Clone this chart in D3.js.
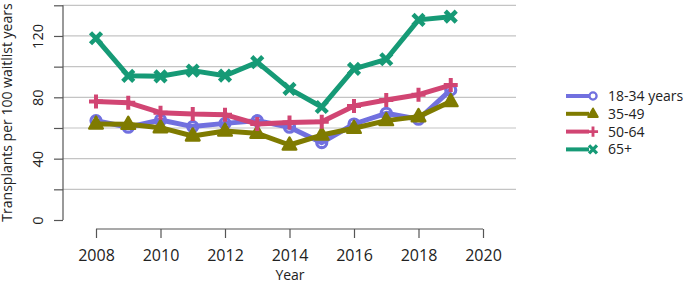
<!DOCTYPE html>
<html><head><meta charset="utf-8">
<script src="https://cdn.jsdelivr.net/npm/d3@7"></script>
<style>body{margin:0;background:#fff}svg{display:block;font-family:"Open Sans",sans-serif}</style>
</head><body>
<svg id="c" width="685" height="292"></svg>
<script>
const years = [2008,2009,2010,2011,2012,2013,2014,2015,2016,2017,2018,2019];
const seriesNames = ["18-34 years","35-49","50-64","65+"];
const v1834 = [64.8,60.5,65.2,60.9,63.0,64.8,60.5,50.4,62.6,69.6,65.7,84.8];
const v3549 = [62.6,62.4,60.2,54.8,58.0,56.5,48.9,55.4,59.8,64.8,67.4,77.2];
const v5064 = [77.2,76.5,70.0,69.1,68.7,62.6,63.5,64.1,74.4,78.3,81.7,88.0];
const v65 = [118.5,94.0,93.7,97.4,94.1,102.9,85.5,73.7,98.5,104.8,130.5,132.6];
const colors = ["#7170df","#7f7b00","#d14573","#169a76"];
const shapes = ["circle","triangle","plus","cross"];
const xTicks = [2008,2010,2012,2014,2016,2018,2020];
const yTicks = [0,20,40,60,80,100,120,140];
const yLabels = [0,40,80,120];

const svg = d3.select("#c");
const x = d3.scaleLinear().domain([2008,2020]).range([96,483]);
const y = d3.scaleLinear().domain([0,140]).range([220,5.3]);
const data = [v1834,v3549,v5064,v65];

// gridlines
svg.append("g").selectAll("line").data(yTicks.filter(d=>d>0)).join("line")
  .attr("x1",63).attr("x2",516).attr("y1",d=>y(d)).attr("y2",d=>y(d))
  .attr("stroke","#c4c4c4").attr("stroke-width",1.2);

// y axis
const ya = svg.append("g").attr("transform","translate(63,0)")
  .call(d3.axisLeft(y).tickValues(yTicks).tickSize(9).tickFormat(d=>yLabels.includes(d)?d:""));
ya.select(".domain").attr("stroke","#555").attr("stroke-width",1.2).attr("d","M0,"+y(140)+"V"+y(0));
ya.selectAll(".tick line").attr("stroke","#555").attr("stroke-width",1.2);
ya.selectAll(".tick text").attr("font-size",14.5).attr("fill","#222")
  .attr("x",0).attr("y",0).attr("dy","0").attr("dx","0")
  .attr("transform","translate(-20,0) rotate(-90)")
  .attr("text-anchor","middle").attr("font-family","Open Sans");

// x axis
const xa = svg.append("g").attr("transform","translate(0,229)")
  .call(d3.axisBottom(x).tickValues(xTicks).tickSize(9).tickFormat(d3.format("d")));
xa.select(".domain").attr("stroke","#555").attr("stroke-width",1.2).attr("d","M"+x(2008)+",0H"+x(2020));
xa.selectAll(".tick line").attr("stroke","#555").attr("stroke-width",1.2);
xa.selectAll(".tick text").attr("font-size",16).attr("fill","#222").attr("y",32).attr("dy","0").attr("font-family","Open Sans");

svg.append("text").attr("x",290).attr("y",280).attr("text-anchor","middle").attr("font-size",14).attr("fill","#222").text("Year");
svg.append("text").attr("transform","translate(12,112.5) rotate(-90)").attr("text-anchor","middle").attr("font-size",14).attr("fill","#222").text("Transplants per 100 waitlist years");

function marker(g, shape, color, cx, cy, s){
  if(shape==="circle"){
    g.append("circle").attr("cx",cx).attr("cy",cy).attr("r",5*s).attr("fill","none").attr("stroke",color).attr("stroke-width",3.2*s);
  } else if(shape==="triangle"){
    const r=7.5*s;
    g.append("path").attr("d",`M${cx},${cy-r}L${cx+r*0.9},${cy+r*0.6}L${cx-r*0.9},${cy+r*0.6}Z`).attr("fill",color).attr("stroke",color).attr("stroke-width",2.5*s).attr("stroke-linejoin","round");
  } else if(shape==="plus"){
    const r=7*s;
    g.append("path").attr("d",`M${cx-r},${cy}H${cx+r}M${cx},${cy-r}V${cy+r}`).attr("stroke",color).attr("stroke-width",4*s);
  } else {
    const r=5.5*s;
    g.append("path").attr("d",`M${cx-r},${cy-r}L${cx+r},${cy+r}M${cx-r},${cy+r}L${cx+r},${cy-r}`).attr("stroke",color).attr("stroke-width",4.5*s);
  }
}

const line = d3.line().x((d,i)=>x(years[i])).y(d=>y(d));
data.forEach((vals,k)=>{
  const g = svg.append("g");
  g.append("path").datum(vals).attr("d",line).attr("fill","none").attr("stroke",colors[k]).attr("stroke-width",5).attr("stroke-linejoin","round");
  vals.forEach((v,i)=>marker(g,shapes[k],colors[k],x(years[i]),y(v),1));
});

// legend
const lg = svg.append("g");
seriesNames.forEach((n,k)=>{
  const yy = 96 + k*17.8;
  lg.append("line").attr("x1",566).attr("x2",589).attr("y1",yy).attr("y2",yy).attr("stroke",colors[k]).attr("stroke-width",4);
  marker(lg,shapes[k],colors[k],593,yy,0.72);
  lg.append("text").attr("x",608).attr("y",yy+5).attr("font-size",14).attr("fill","#222").text(n);
});
</script>
</body></html>
